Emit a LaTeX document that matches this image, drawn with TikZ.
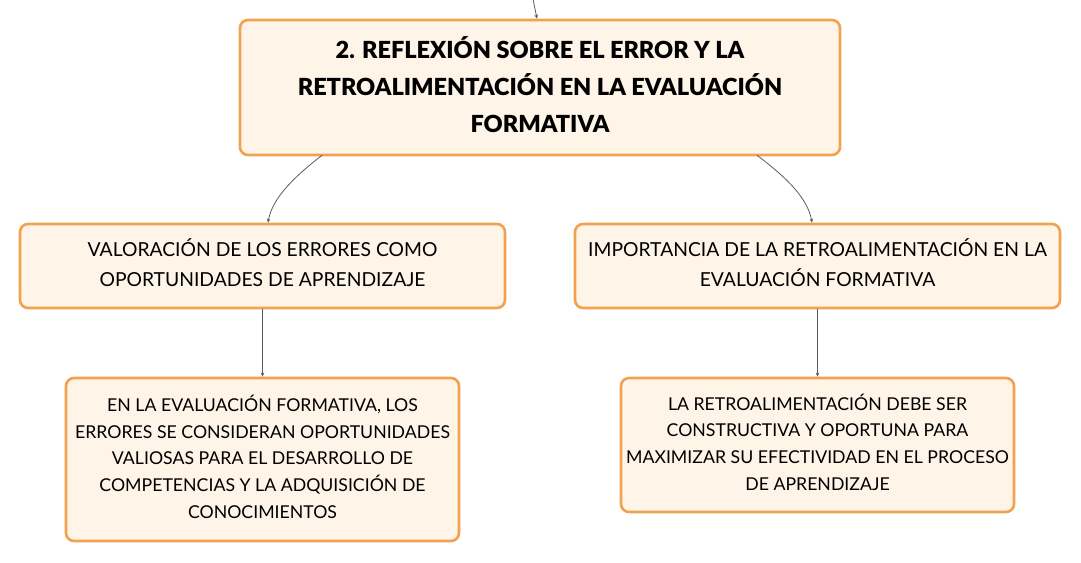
\documentclass[tikz,border=0pt]{standalone}
\usepackage{fontspec}
\setmainfont{Lato}
\newfontfamily\heavyfont{Lato Black}
\usetikzlibrary{arrows.meta,calc}
\definecolor{boxborder}{HTML}{F2A24F}
\definecolor{boxfill}{HTML}{FEF4E8}
\definecolor{linkgray}{HTML}{5A5A5A}
\tikzset{
  card/.style={draw=boxborder, line width=2.6pt, fill=boxfill, rounded corners=8pt,
    align=center, inner sep=0pt, execute at end node={\rule[-6pt]{0pt}{6pt}}},
  midtext/.style={font=\fontsize{19.3}{30}\selectfont},
  bodytext/.style={font=\fontsize{17.7}{26.7}\selectfont},
  titletext/.style={font=\fontsize{23.5}{37}\selectfont\heavyfont},
  link/.style={draw=linkgray, line width=0.8pt, -{Stealth[length=4pt,width=3.5pt]}}
}
\begin{document}
\begin{tikzpicture}[x=1pt,y=-1pt]
\useasboundingbox (0,0) rectangle (1081,562);
\node[card, titletext, minimum width=600pt, minimum height=135pt] (main) at (540,87.5)
  {2. REFLEXIÓN SOBRE EL ERROR Y LA\\RETROALIMENTACIÓN EN LA EVALUACIÓN\\FORMATIVA};
\node[card, midtext, minimum width=485pt, minimum height=84pt] (left) at (262.5,266)
  {VALORACIÓN DE LOS ERRORES COMO\\OPORTUNIDADES DE APRENDIZAJE};
\node[card, midtext, minimum width=485pt, minimum height=84pt] (right) at (817.5,266)
  {IMPORTANCIA DE LA RETROALIMENTACIÓN EN LA\\EVALUACIÓN FORMATIVA};
\node[card, bodytext, minimum width=393pt, minimum height=163pt] (bl) at (262.5,459.5)
  {EN LA EVALUACIÓN FORMATIVA, LOS\\ERRORES SE CONSIDERAN OPORTUNIDADES\\VALIOSAS PARA EL DESARROLLO DE\\COMPETENCIAS Y LA ADQUISICIÓN DE\\CONOCIMIENTOS};
\node[card, bodytext, minimum width=393pt, minimum height=134pt] (br) at (817.5,445)
  {LA RETROALIMENTACIÓN DEBE SER\\CONSTRUCTIVA Y OPORTUNA PARA\\MAXIMIZAR SU EFECTIVIDAD EN EL PROCESO\\DE APRENDIZAJE};
\coordinate (topin) at (533,-1);
\draw[link] (topin) -- ($(main.north)+(-3,0)$);
\draw[link] ($(main.south)+(-218,-1)$) .. controls (290,180) and (272,200) .. ($(left.north)+(5.5,0)$);
\draw[link] ($(main.south)+(217,-1)$) .. controls (790,180) and (808,200) .. ($(right.north)+(-5.5,0)$);
\draw[link] (left.south) -- (bl.north);
\draw[link] (right.south) -- (br.north);
\end{tikzpicture}
\end{document}
